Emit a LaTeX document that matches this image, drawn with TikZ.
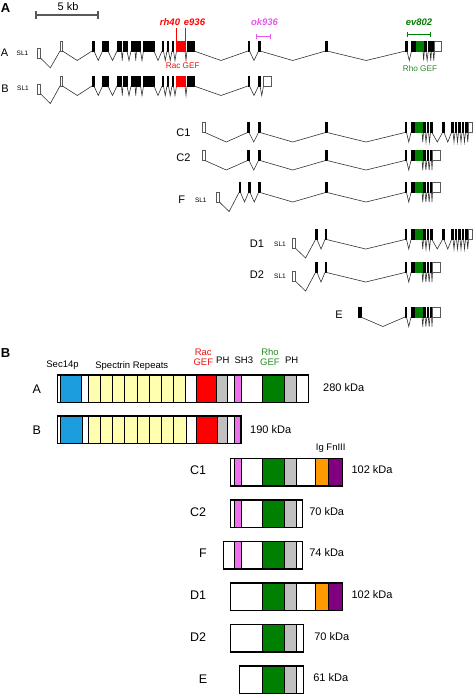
\documentclass[tikz,border=0pt]{standalone}
\usepackage{fontspec}
\setmainfont{Liberation Sans}
\definecolor{dgreen}{RGB}{0,128,0}
\definecolor{tgreen}{RGB}{40,140,40}
\definecolor{sblue}{RGB}{28,158,222}
\definecolor{syel}{RGB}{255,255,175}
\definecolor{sgray}{RGB}{192,192,192}
\definecolor{smag}{RGB}{238,112,238}
\definecolor{sorange}{RGB}{255,153,0}
\definecolor{spurple}{RGB}{128,0,128}
\definecolor{okmag}{RGB}{228,90,228}
\definecolor{tred}{RGB}{235,20,20}
\tikzset{
 intron/.style={draw=black!80, line width=0.6pt, line join=miter},
 ex/.style={fill=black, draw=black, line width=0.3pt},
 exo/.style={fill=white, draw=black!65, line width=0.6pt},
 exr/.style={fill=red, draw=red, line width=0.3pt},
 exg/.style={fill=dgreen, draw=dgreen, line width=0.3pt},
 seg/.style={draw=black, line width=0.5pt},
 outl/.style={draw=black, line width=1.1pt},
 rowlab/.style={inner sep=0pt, font=\fontsize{11}{12}\selectfont},
 sllab/.style={inner sep=0pt, font=\fontsize{6.5}{7}\selectfont},
 panlab/.style={inner sep=0pt, font=\fontsize{13}{14}\selectfont\bfseries},
 mutlab/.style={inner sep=0pt, font=\fontsize{9.5}{10}\selectfont\bfseries\itshape},
 domlab/.style={inner sep=0pt, font=\fontsize{8.2}{9}\selectfont},
 hdlab/.style={inner sep=0pt, font=\fontsize{9.5}{10}\selectfont},
 kdlab/.style={inner sep=0pt, font=\fontsize{11}{12}\selectfont},
 blab/.style={inner sep=0pt, font=\fontsize{12.5}{13}\selectfont},
}
% gene model: #1 bottom y of exons, #2 list x1/x2/style/dy
\newcommand\gmodel[2]{%
  \global\let\gprevx\relax
  \foreach \xa/\xb/\st/\dy in {#2}{%
    \pgfmathsetmacro\thisb{#1+\dy}%
    \ifx\gprevx\relax\else
      \pgfmathsetmacro\gapw{\xa-\gprevx}%
      \ifdim\gapw pt>0.3pt
        \pgfmathsetmacro\midx{(\gprevx+\xa)/2}%
        \pgfmathsetmacro\apy{max(\gprevb,\thisb)+9.5}%
        \draw[intron] (\gprevx,\gprevb) -- (\midx,\apy) -- (\xa,\thisb);
      \fi
    \fi
    \draw[\st] (\xa,\thisb) rectangle (\xb,\thisb-10);
    \xdef\gprevx{\xb}\xdef\gprevb{\thisb}%
  }%
}
% protein bar: #1 top, #2 bottom, #3 left, #4 right, #5 list x1/x2/colour
\newcommand\pbar[5]{%
  \foreach \xa/\xb/\cl in {#5}{\draw[seg, fill=\cl] (\xa,#1) rectangle (\xb,#2);}
  \draw[outl] (#3,#1) rectangle (#4,#2);
}
\begin{document}
\begin{tikzpicture}[x=1pt,y=-1pt]
\useasboundingbox (0,0) rectangle (474,696);
\fill[white] (0,0) rectangle (474,696);

% ---------------- Panel A ----------------
\node[panlab] (pA) at (5.5,8) {A};
\node[inner sep=0pt, font=\fontsize{11}{12}\selectfont] (kb) at (68,7) {5 kb};
\coordinate (sbl) at (36,15);
\coordinate (sbr) at (98,15);
\draw[black!65, line width=1.6pt] (sbl) -- (sbr);
\draw[black!65, line width=1.4pt] ([yshift=-3.5pt]sbl) -- ([yshift=4.5pt]sbl);
\draw[black!65, line width=1.4pt] ([yshift=-3.5pt]sbr) -- ([yshift=4.5pt]sbr);

% mutation labels
\node[mutlab, text=red] (rh) at (170,22) {rh40};
\node[mutlab, text=red] (e9) at (194.5,22) {e936};
\coordinate (rht) at (176.7,28); \coordinate (rhb) at (176.7,41);
\coordinate (e9t) at (185.7,28); \coordinate (e9b) at (185.7,41);
\draw[red, line width=1pt] (rht) -- (rhb);
\draw[red, line width=1pt] (e9t) -- (e9b);
\node[mutlab, text=okmag] (ok) at (264.5,22.5) {ok936};
\coordinate (okl) at (256,36.5); \coordinate (okr) at (270.5,36.5);
\draw[okmag, line width=0.9pt] (okl) -- (okr);
\draw[okmag, line width=0.9pt] ([yshift=-2.5pt]okl) -- ([yshift=2.5pt]okl);
\draw[okmag, line width=0.9pt] ([yshift=-2.5pt]okr) -- ([yshift=2.5pt]okr);
\node[mutlab, text=dgreen] (ev) at (419,22.5) {ev802};
\coordinate (evl) at (407.7,34); \coordinate (evr) at (430.7,34);
\draw[dgreen, line width=0.9pt] (evl) -- (evr);
\draw[dgreen, line width=0.9pt] ([yshift=-2.5pt]evl) -- ([yshift=2.5pt]evl);
\draw[dgreen, line width=0.9pt] ([yshift=-2.5pt]evr) -- ([yshift=2.5pt]evr);

% row A
\node[rowlab] (lA) at (4.5,53) {A};
\node[sllab] (slA) at (22.5,53) {SL1};
\gmodel{51}{37.5/40.7/exo/7.3, 60/62.5/exo/0, 92/94/ex/0, 102.5/108/ex/0, 117/121.5/ex/0, 123/127/ex/0, 131/135/ex/0, 136.5/140.5/ex/0, 143.5/154/ex/0, 162/163.5/ex/0, 167/168.5/ex/0, 172/173.5/ex/0, 176.5/185/exr/0, 187/194/ex/0, 248/249.5/ex/0, 258.5/260/ex/0, 325.5/327/ex/0, 405.5/407/ex/0, 411.5/415.7/ex/0, 415.7/423/exg/0, 424.3/426/ex/0, 428.3/430/ex/0, 431.5/433/ex/0, 434.5/441/exo/0}
\node[domlab, text=tred] (racA) at (182.7,66) {Rac GEF};
\node[domlab, text=tgreen] (rhoA) at (420,68.3) {Rho GEF};

% row B
\node[rowlab] (lB) at (5,88.5) {B};
\node[sllab] (slB) at (23,88.5) {SL1};
\gmodel{86}{37.5/40.7/exo/8, 60/62.5/exo/0, 92/94/ex/0, 102.5/108/ex/0, 117/121.5/ex/0, 123/127/ex/0, 131/135/ex/0, 136.5/140.5/ex/0, 143.5/154/ex/0, 162/163.5/ex/0, 167/168.5/ex/0, 172/173.5/ex/0, 176.5/185/exr/0, 187/194/ex/0, 248/249.5/ex/0, 258.5/260/ex/0, 263.5/271.5/exo/0}

% row C1
\node[rowlab] (lC1) at (183.5,133) {C1};
\gmodel{132.5}{202.3/205/exo/0, 247.5/249/ex/0, 258.5/260/ex/0, 325.5/327/ex/0, 405/406.5/ex/0, 411/415/ex/0, 415/422/exg/0, 423.5/425/ex/0, 427/428.5/ex/0, 430.5/432/ex/0, 442.5/444/ex/0, 451.5/453/ex/0, 455/456.5/ex/0, 458.5/460/ex/0, 462/463.5/ex/0, 465.5/467/ex/0, 468.5/472.5/exo/0}

% row C2
\node[rowlab] (lC2) at (183.5,157.5) {C2};
\gmodel{160.5}{202.3/205/exo/0, 247.5/249/ex/0, 258.5/260/ex/0, 325.5/327/ex/0, 405/406.5/ex/0, 411/415/ex/0, 415/422/exg/0, 423.5/425/ex/0, 426.8/428.3/ex/0, 430/431.5/ex/0, 432.5/440/exo/0}

% row F
\node[rowlab] (lF) at (181.7,200) {F};
\node[sllab] (slF) at (200.8,200.5) {SL1};
\gmodel{192.5}{216.7/219.3/exo/9.5, 239/240.5/ex/0, 248.5/250/ex/0, 258.5/260/ex/0, 325.5/327/ex/0, 405/406.5/ex/0, 411/415/ex/0, 415/422/exg/0, 423.5/425/ex/0, 426.8/428.3/ex/0, 430/431.5/ex/0, 432.5/440/exo/0}

% row D1
\node[rowlab] (lD1) at (257,243.5) {D1};
\node[sllab] (slD1) at (280,244.5) {SL1};
\gmodel{239.5}{292.7/295.7/exo/9, 315.5/317/ex/0, 325/326.5/ex/0, 405/406.5/ex/0, 411/415/ex/0, 415/422/exg/0, 423.5/425/ex/0, 427/428.5/ex/0, 430.5/432/ex/0, 442.5/444/ex/0, 451.5/453/ex/0, 455/456.5/ex/0, 458.5/460/ex/0, 462/463.5/ex/0, 465.5/467/ex/0, 468.5/472.5/exo/0}

% row D2
\node[rowlab] (lD2) at (257,275) {D2};
\node[sllab] (slD2) at (280,276) {SL1};
\gmodel{272.5}{292.7/295.7/exo/9, 315.5/317/ex/0, 325/326.5/ex/0, 405/406.5/ex/0, 411/415/ex/0, 415/422/exg/0, 423.5/425/ex/0, 426.8/428.3/ex/0, 430/431.5/ex/0, 432.5/440/exo/0}

% row E
\node[rowlab] (lE) at (339,314.5) {E};
\gmodel{317}{358.3/360.7/ex/0, 405/406.5/ex/0, 411/415/ex/0, 415/422/exg/0, 423.5/425/ex/0, 426.8/428.3/ex/0, 430/431.5/ex/0, 432.5/440/exo/0}

% ---------------- Panel B ----------------
\node[panlab] (pB) at (5.5,353) {B};
\node[hdlab] (hsec) at (62.5,365) {Sec14p};
\node[hdlab] (hspec) at (131.8,366) {Spectrin Repeats};
\node[hdlab, text=tred] (hrac1) at (203.3,352.3) {Rac};
\node[hdlab, text=tred] (hrac2) at (203.3,362.7) {GEF};
\node[hdlab] (hph1) at (222.8,360.7) {PH};
\node[hdlab] (hsh3) at (243.8,360.7) {SH3};
\node[hdlab, text=tgreen] (hrho1) at (270,351.7) {Rho};
\node[hdlab, text=tgreen] (hrho2) at (270,362.7) {GEF};
\node[hdlab] (hph2) at (291.7,360.7) {PH};
\node[hdlab] (hig) at (330.7,448.3) {Ig FnIII};

% A
\node[blab] (bA) at (36.7,389.3) {A};
\pbar{375}{402.5}{57.3}{308.3}{57.3/60/white, 60/81.7/sblue, 81.7/88.3/white, 88.3/100/syel, 100/112.3/syel, 112.3/124.7/syel, 124.7/137/syel, 137/149.3/syel, 149.3/161.7/syel, 161.7/173.3/syel, 173.3/185.3/syel, 185.3/196.3/white, 196.3/216.7/red, 216.7/227.3/sgray, 227.3/234.3/white, 234.3/241/smag, 241/262.7/white, 262.7/284/dgreen, 284/296.7/sgray, 296.7/308.3/white}
\node[kdlab] (kA) at (343.7,387.5) {280 kDa};

% B
\node[blab] (bB) at (36.7,430.5) {B};
\pbar{416}{443.5}{57.3}{241}{57.3/60.5/white, 60.5/82.3/sblue, 82.3/88.3/white, 88.3/100/syel, 100/112.3/syel, 112.3/124.7/syel, 124.7/137/syel, 137/149.3/syel, 149.3/161.7/syel, 161.7/173.3/syel, 173.3/186.3/syel, 186.3/196.7/white, 196.7/217.3/red, 217.3/227.3/sgray, 227.3/234.3/white, 234.3/241/smag}
\node[kdlab] (kB) at (270.7,430) {190 kDa};

% C1
\node[blab] (bC1) at (198,470) {C1};
\pbar{458.3}{485.8}{230.7}{342.3}{230.7/234.3/white, 234.3/241/smag, 241/262.7/white, 262.7/284/dgreen, 284/296.7/sgray, 296.7/315/white, 315/328.3/sorange, 328.3/342.3/spurple}
\node[kdlab] (kC1) at (372,470) {102 kDa};

% C2
\node[blab] (bC2) at (198,512) {C2};
\pbar{500}{527.5}{230.7}{302.7}{230.7/234.3/white, 234.3/241/smag, 241/262.7/white, 262.7/284/dgreen, 284/296.7/sgray, 296.7/302.7/white}
\node[kdlab] (kC2) at (326.7,511.7) {70 kDa};

% F
\node[blab] (bF) at (203,553) {F};
\pbar{541.3}{568.8}{223.3}{302.7}{223.3/234.3/white, 234.3/241/smag, 241/262.7/white, 262.7/284/dgreen, 284/296.7/sgray, 296.7/302.7/white}
\node[kdlab] (kF) at (326.7,552.7) {74 kDa};

% D1
\node[blab] (bD1) at (198,595) {D1};
\pbar{583}{610.5}{230.7}{342.3}{230.7/262.7/white, 262.7/284/dgreen, 284/296.7/sgray, 296.7/315/white, 315/328.3/sorange, 328.3/342.3/spurple}
\node[kdlab] (kD1) at (372,594.3) {102 kDa};

% D2
\node[blab] (bD2) at (198,637) {D2};
\pbar{624.5}{652}{230.7}{303.3}{230.7/262.7/white, 262.7/284/dgreen, 284/296.7/sgray, 296.7/303.3/white}
\node[kdlab] (kD2) at (331.8,636.7) {70 kDa};

% E
\node[blab] (bE) at (203,679) {E};
\pbar{665.8}{693.3}{239.3}{303.3}{239.3/262.7/white, 262.7/284/dgreen, 284/296.7/sgray, 296.7/303.3/white}
\node[kdlab] (kE) at (330.8,677.3) {61 kDa};
\end{tikzpicture}
\end{document}
